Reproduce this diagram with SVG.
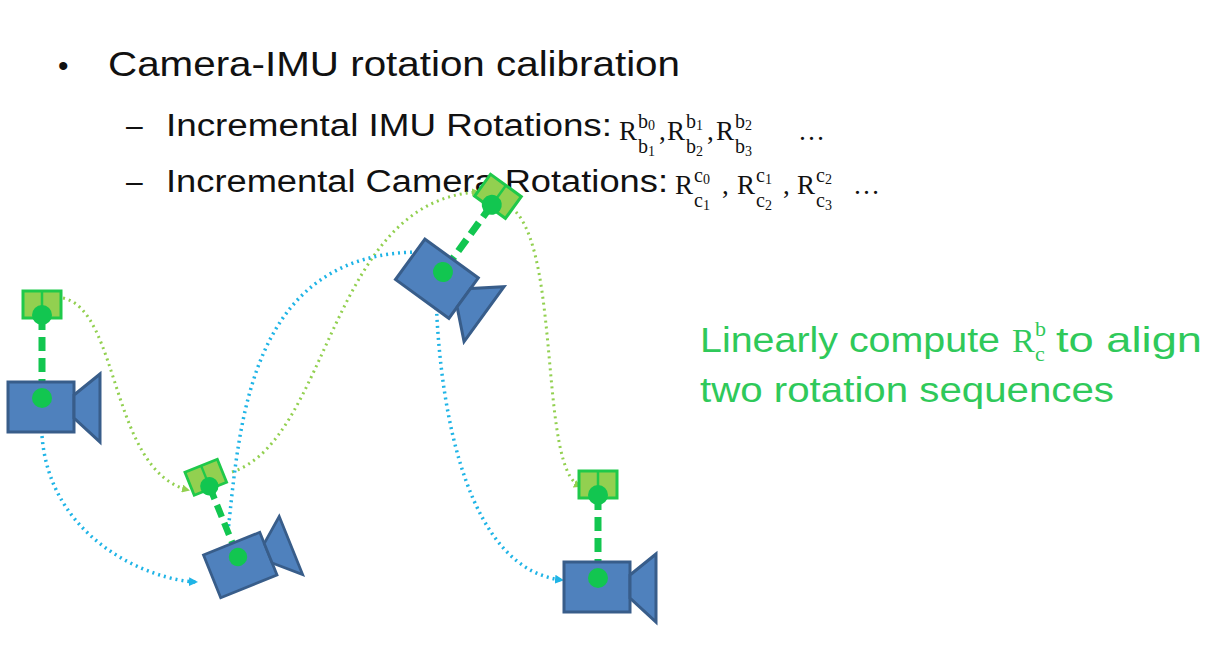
<svg xmlns="http://www.w3.org/2000/svg" width="1212" height="654" viewBox="0 0 1212 654">
<style>
.t{font-family:"Liberation Sans",Arial,sans-serif;fill:#111}
.m{font-family:"Liberation Serif","DejaVu Serif",serif;fill:#111}
.g{font-family:"Liberation Sans",Arial,sans-serif;fill:#2fc95a}
.gm{font-family:"Liberation Serif","DejaVu Serif",serif;fill:#2fc95a}
.body{fill:#4f81bd;stroke:#385d8a;stroke-width:3}
.imu{fill:#92d050;stroke:#1fc94a;stroke-width:3}
.dot{fill:#12c650}
.link{stroke:#12c650;stroke-width:7;stroke-dasharray:14 7}
.gc{fill:none;stroke:#92d050;stroke-width:3;stroke-dasharray:2 4}
.bc{fill:none;stroke:#1fb4e6;stroke-width:3.5;stroke-dasharray:2 4}
</style>
<defs>
<marker id="ag" markerWidth="8" markerHeight="8" refX="6" refY="4" orient="auto" markerUnits="userSpaceOnUse"><path d="M0,0L8,4L0,8z" fill="#92d050"/></marker>
<marker id="ab" markerWidth="9" markerHeight="9" refX="7" refY="4.5" orient="auto" markerUnits="userSpaceOnUse"><path d="M0,0L9,4.5L0,9z" fill="#1fb4e6"/></marker>
<g id="unit">
<line class="link" x1="0" y1="-82" x2="0" y2="0"/>
<rect class="body" x="-34" y="-16" width="66" height="50"/>
<polygon class="body" points="32,-3 58,-24 58,44 32,20"/>
<rect class="imu" x="-19" y="-107" width="38" height="27"/>
<line x1="0" y1="-107" x2="0" y2="-86" stroke="#1fc94a" stroke-width="2.5"/>
<circle class="dot" cx="0" cy="-83" r="10"/>
<circle class="dot" cx="0" cy="0" r="10"/>
</g>
</defs>
<text class="t" x="58" y="76" font-size="30">•</text>
<text class="t" x="108" y="76" font-size="35" textLength="572" lengthAdjust="spacingAndGlyphs">Camera-IMU rotation calibration</text>
<text class="t" x="126" y="136" font-size="30">–</text>
<text class="t" x="166" y="136" font-size="31" textLength="446" lengthAdjust="spacingAndGlyphs">Incremental IMU Rotations:</text>
<text class="t" x="126" y="192" font-size="30">–</text>
<text class="t" x="166" y="192" font-size="31" textLength="502" lengthAdjust="spacingAndGlyphs">Incremental Camera Rotations:</text>
<g class="m" font-size="27">
<text x="619" y="140">R</text>
<text x="638" y="128" font-size="20">b</text><text x="648" y="130" font-size="14">0</text>
<text x="638" y="153" font-size="20">b</text><text x="648" y="156" font-size="14">1</text>
<text x="659" y="140">,</text><text x="667" y="140">R</text>
<text x="686" y="128" font-size="20">b</text><text x="696" y="130" font-size="14">1</text>
<text x="686" y="153" font-size="20">b</text><text x="696" y="156" font-size="14">2</text>
<text x="707" y="140">,</text><text x="716" y="140">R</text>
<text x="735" y="128" font-size="20">b</text><text x="745" y="130" font-size="14">2</text>
<text x="735" y="153" font-size="20">b</text><text x="745" y="156" font-size="14">3</text>
<text x="798" y="140">…</text>
<text x="675" y="194">R</text>
<text x="694" y="182" font-size="20">c</text><text x="703" y="184" font-size="14">0</text>
<text x="694" y="207" font-size="20">c</text><text x="703" y="210" font-size="14">1</text>
<text x="722" y="194">,</text><text x="737" y="194">R</text>
<text x="756" y="182" font-size="20">c</text><text x="765" y="184" font-size="14">1</text>
<text x="756" y="207" font-size="20">c</text><text x="765" y="210" font-size="14">2</text>
<text x="783" y="194">,</text><text x="797" y="194">R</text>
<text x="816" y="182" font-size="20">c</text><text x="825" y="184" font-size="14">2</text>
<text x="816" y="207" font-size="20">c</text><text x="825" y="210" font-size="14">3</text>
<text x="853" y="194">…</text>
</g>
<g id="label">
<text class="g" x="700" y="352" font-size="35" textLength="300" lengthAdjust="spacingAndGlyphs">Linearly compute</text>
<text class="gm" x="1012" y="352" font-size="34">R</text>
<text class="gm" x="1035" y="336" font-size="22">b</text>
<text class="gm" x="1035" y="361" font-size="22">c</text>
<text class="g" x="1056" y="352" font-size="35" textLength="146" lengthAdjust="spacingAndGlyphs">to align</text>
<text class="g" x="700" y="402" font-size="35" textLength="414" lengthAdjust="spacingAndGlyphs">two rotation sequences</text>
</g>
<g id="connectors">
<path class="gc" d="M63,298 C120,310 110,470 188,490" marker-end="url(#ag)"/>
<path class="gc" d="M232,472 C330,440 330,200 478,192" marker-end="url(#ag)"/>
<path class="gc" d="M516,212 C560,260 540,470 580,486" marker-end="url(#ag)"/>
<path class="bc" d="M42,436 C50,540 150,580 196,582" marker-end="url(#ab)"/>
<path class="bc" d="M228,532 C240,420 250,250 424,252" marker-end="url(#ab)"/>
<path class="bc" d="M436,296 C440,420 470,570 562,580" marker-end="url(#ab)"/>
</g>
<g id="node1"><use href="#unit" transform="translate(42,398)"/></g>
<g id="node2"><use href="#unit" transform="translate(238,557) rotate(-22) scale(0.92)"/></g>
<g id="node3"><use href="#unit" transform="translate(443,272) rotate(36)"/></g>
<g id="node4"><use href="#unit" transform="translate(598,578)"/></g>
</svg>
